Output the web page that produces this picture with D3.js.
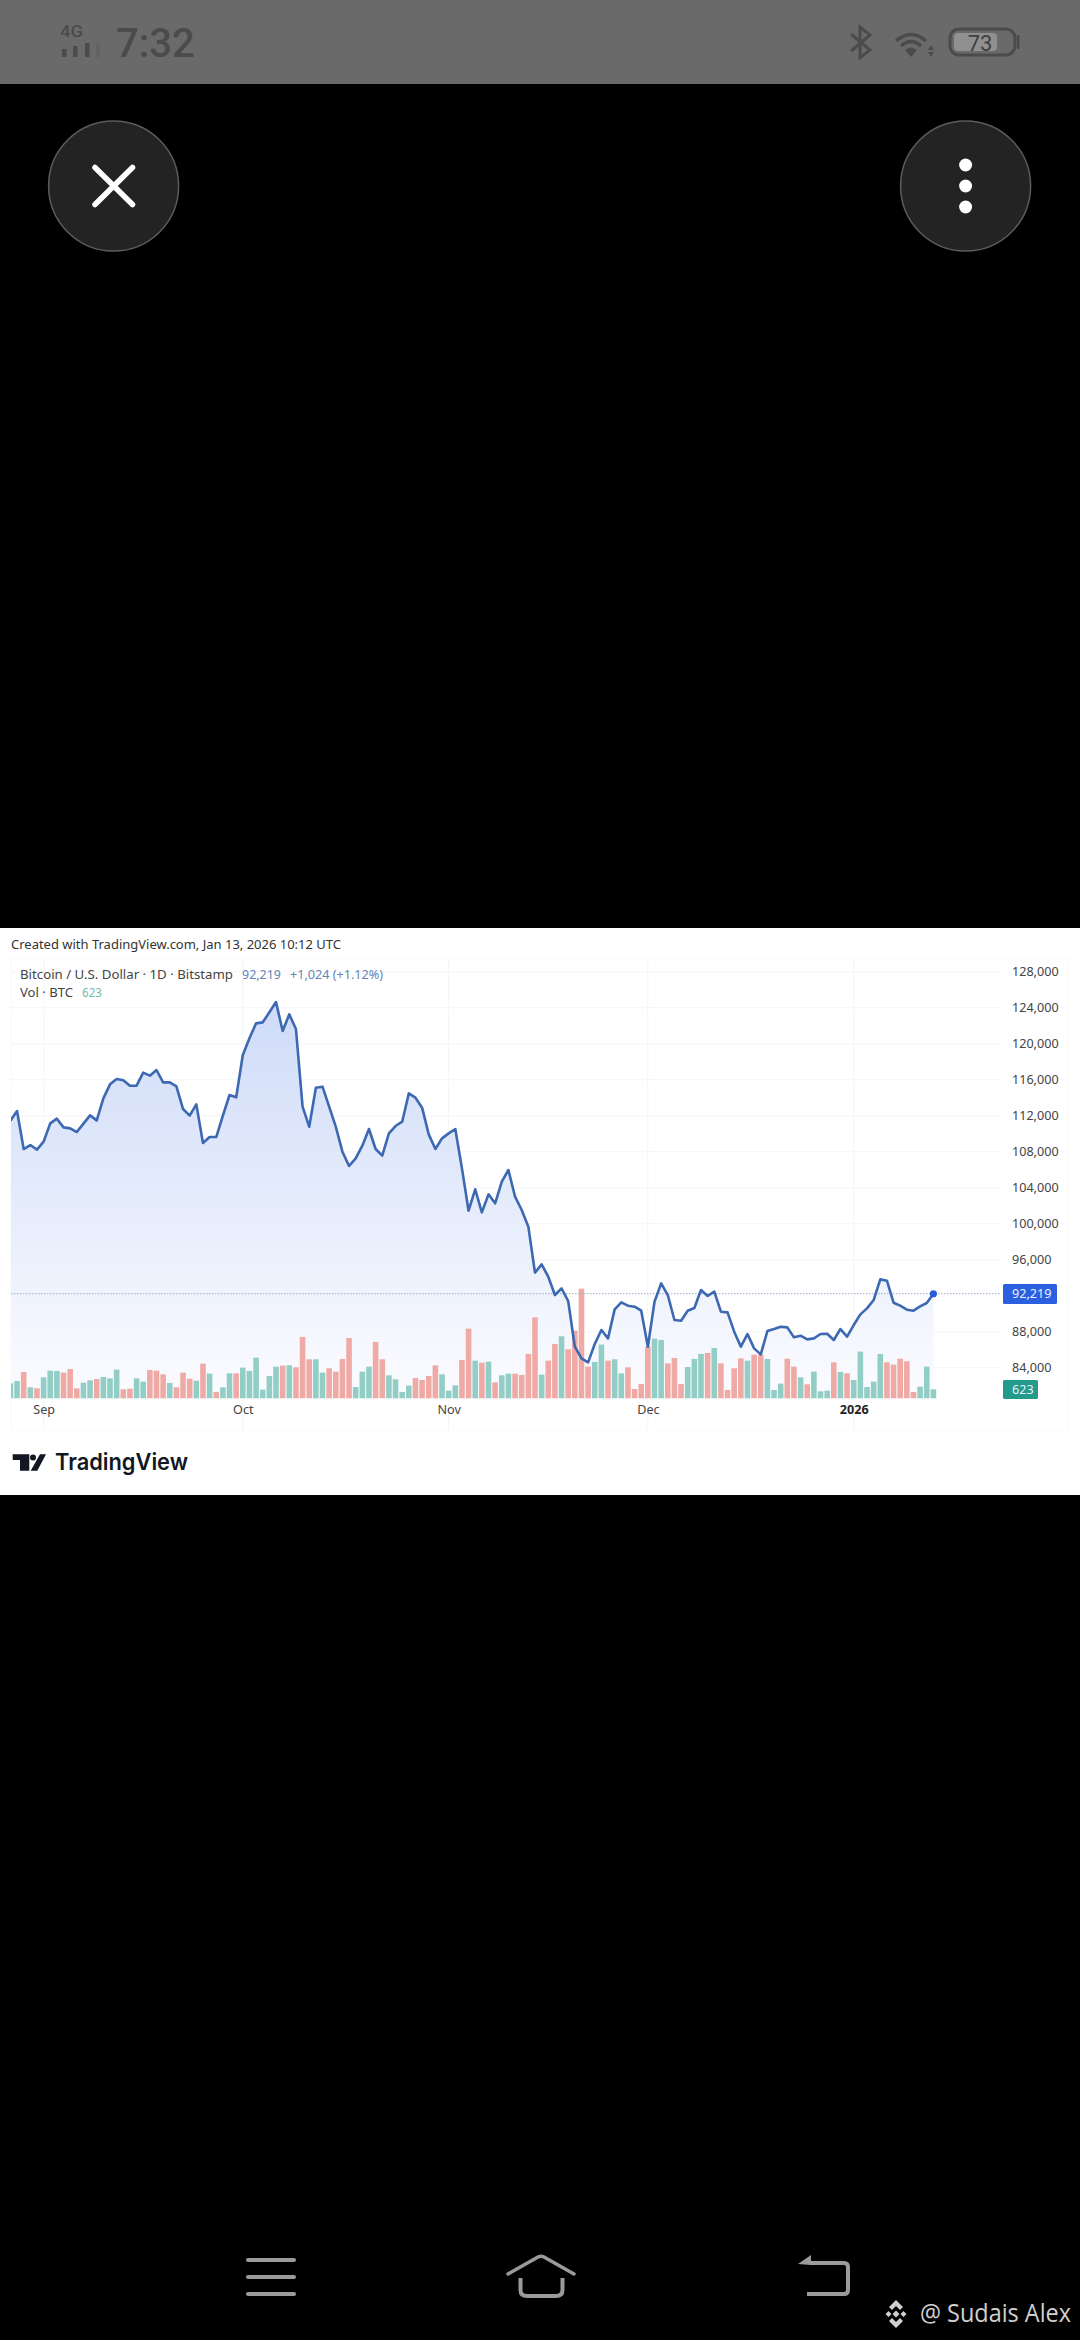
<!DOCTYPE html>
<html>
<head>
<meta charset="utf-8">
<script src="https://cdn.jsdelivr.net/npm/d3@7"></script>
<style>
  html, body { margin: 0; padding: 0; background: #000; }
  svg { display: block; }
</style>
</head>
<body>
<div id="chart"></div>
<script>
// daily closes, Aug 27 2025 to Jan 13 2026
const closes = [
  111447, 112521, 108298, 108743, 108224, 109113, 111150, 111669, 110706, 110595,
  110187, 111113, 112039, 111484, 113928, 115484, 116077, 115928, 115336, 115336,
  116780, 116447, 117077, 115706, 115706, 115262, 112743, 112002, 113261, 108965,
  109632, 109632, 112002, 114299, 114039, 118743, 120595, 122262, 122373, 123485,
  124633, 121410, 123262, 121633, 113002, 110780, 115113, 115225, 113002, 110780,
  108002, 106409, 107261, 108669, 110521, 108298, 107557, 110039, 110854, 111335,
  114484, 114002, 112891, 109928, 108298, 109483, 110039, 110521, 106150, 101446,
  103816, 101261, 103261, 102261, 104668, 105965, 103001, 101520, 99668, 94557,
  95483, 94112, 92075, 92816, 91408, 86334, 85037, 84593, 86630, 88186,
  87260, 90482, 91260, 90890, 90779, 90334, 86334, 91334, 93371, 92075,
  89297, 89223, 90334, 90630, 92631, 91964, 92445, 90223, 90149, 88001,
  86334, 87741, 86149, 85482, 88075, 88297, 88556, 88482, 87371, 87556,
  87149, 87260, 87741, 87778, 87075, 88297, 87445, 88741, 89927, 90593,
  91519, 93816, 93668, 91223, 90890, 90445, 90334, 90816, 91186, 92219
];

const volumes = [
  1035, 1196, 1817, 759, 690, 1449, 1909, 1886, 1771, 2024,
  690, 1081, 1242, 1334, 1472, 1380, 1978, 621, 667, 1380,
  1150, 1955, 1909, 1656, 1058, 759, 1771, 1357, 1219, 2392,
  1702, 437, 759, 1725, 1725, 2116, 1886, 2806, 598, 1541,
  2185, 2254, 2277, 2139, 4232, 2691, 2691, 1771, 2070, 1840,
  2714, 4163, 782, 1840, 2185, 3887, 2691, 1587, 1311, 437,
  874, 1403, 1265, 1541, 2277, 1656, 529, 897, 2645, 4807,
  2599, 2461, 2530, 1104, 1587, 1702, 1702, 1610, 3059, 5589,
  1633, 2599, 3749, 4278, 3381, 4669, 7567, 2185, 2507, 3703,
  2599, 2691, 1725, 2139, 644, 989, 3565, 4117, 4025, 2415,
  2783, 989, 2162, 2714, 3059, 3128, 3473, 2415, 575, 2070,
  2760, 2599, 3013, 3013, 2714, 575, 1012, 2737, 2185, 1449,
  966, 1840, 483, 529, 2484, 1817, 1725, 1265, 3220, 782,
  1150, 3059, 2484, 2323, 2737, 2553, 437, 805, 2185, 623
];

// 1 = green bar, 0 = red bar
const volumeUp = [
  1, 1, 0, 1, 0, 1, 1, 1, 0, 0,
  0, 1, 1, 0, 1, 1, 1, 0, 0, 1,
  1, 0, 0, 0, 1, 0, 0, 0, 1, 0,
  1, 0, 1, 1, 0, 1, 1, 1, 1, 1,
  1, 0, 1, 0, 0, 0, 1, 1, 0, 0,
  0, 0, 1, 1, 1, 0, 0, 1, 1, 1,
  1, 0, 0, 0, 0, 1, 1, 1, 0, 0,
  1, 0, 1, 0, 1, 1, 0, 0, 0, 0,
  1, 0, 0, 1, 0, 0, 0, 0, 1, 1,
  0, 1, 1, 0, 0, 0, 0, 1, 1, 0,
  0, 0, 1, 1, 1, 0, 1, 0, 0, 0,
  0, 1, 0, 0, 1, 1, 1, 0, 0, 1,
  0, 1, 1, 1, 0, 1, 0, 1, 1, 1,
  1, 1, 0, 0, 0, 0, 0, 1, 1, 1
];

const priceTicks = [128000, 124000, 120000, 116000, 112000, 108000, 104000, 100000, 96000, 88000, 84000];
const monthTicks = ["2025-09-01", "2025-10-01", "2025-11-01", "2025-12-01", "2026-01-01"];
const monthLabels = ["Sep", "Oct", "Nov", "Dec", "2026"];
const startDay = "2025-08-27";
const lastPrice = 92219;
const lastVolume = 623;

const width = 1080, height = 2340;
const uiFont = "'Noto Sans', sans-serif";

const days = closes.map((d, i) => d3.utcDay.offset(new Date(startDay), i));

const x = d3.scaleUtc().domain([days[0], days[days.length - 1]]).range([10.4, 933.4]);
const y = d3.scaleLinear().domain([84000, 128000]).range([1367.7, 971.7]);
const yVol = d3.scaleLinear().domain([0, 6900]).range([1398.3, 1298.3]);

const svg = d3.select("#chart").append("svg").attr("width", width).attr("height", height);

svg.append("rect").attr("width", width).attr("height", height).attr("fill", "#000");

// phone status bar
svg.append("rect").attr("width", width).attr("height", 84).attr("fill", "#6a6a6a");
const statusColor = "#4b4b4b";
svg.append("text").attr("x", 116).attr("y", 57).attr("font-family", "Roboto, sans-serif")
  .attr("font-weight", 500).attr("font-size", 40).attr("fill", statusColor).text("7:32");
svg.append("text").attr("x", 60).attr("y", 37).attr("font-family", "Roboto, sans-serif")
  .attr("font-weight", 500).attr("font-size", 17).attr("fill", statusColor)
  .attr("textLength", 23).attr("lengthAdjust", "spacingAndGlyphs").text("4G");
[[62, 49], [73, 46], [85, 43]].forEach(([bx, by]) => {
  svg.append("rect").attr("x", bx).attr("y", by).attr("width", 4.5).attr("height", 57 - by).attr("fill", statusColor);
});
svg.append("rect").attr("x", 96).attr("y", 43).attr("width", 4).attr("height", 14).attr("fill", "#626262");
svg.append("path").attr("d", "M851,34L870,50L860,58V27L870,35L851,51")
  .attr("fill", "none").attr("stroke", statusColor).attr("stroke-width", 3);
svg.append("path").attr("d", "M896,41Q911,28 926,41M901,46Q911,37 921,46")
  .attr("fill", "none").attr("stroke", statusColor).attr("stroke-width", 3.5);
svg.append("path").attr("d", "M905,50Q911,45 917,50L911,57Z").attr("fill", statusColor);
svg.append("path").attr("d", "M931,45l3,5h-6zM931,57l3,-5h-6z").attr("fill", statusColor);
svg.append("rect").attr("x", 950).attr("y", 29).attr("width", 65).attr("height", 26).attr("rx", 9)
  .attr("fill", "none").attr("stroke", statusColor).attr("stroke-width", 3);
svg.append("rect").attr("x", 954).attr("y", 33).attr("width", 43).attr("height", 18).attr("rx", 4).attr("fill", "#909090");
svg.append("rect").attr("x", 1017).attr("y", 35).attr("width", 2.5).attr("height", 14).attr("fill", statusColor);
svg.append("text").attr("x", 980).attr("y", 51).attr("text-anchor", "middle").attr("font-family", "Roboto, sans-serif")
  .attr("font-size", 22).attr("fill", "#3f3f3f").text("73");

// round overlay buttons
[113.6, 965.6].forEach((cx) => {
  svg.append("circle").attr("cx", cx).attr("cy", 186).attr("r", 65)
    .attr("fill", "#232323").attr("stroke", "#5c5c5c").attr("stroke-width", 1.5);
});
svg.append("path").attr("d", "M95,167.5L132.5,204.5M132.5,167.5L95,204.5")
  .attr("stroke", "#fff").attr("stroke-width", 5.5).attr("stroke-linecap", "round");
[165, 186, 207].forEach((cy) => {
  svg.append("circle").attr("cx", 965.6).attr("cy", cy).attr("r", 6.5).attr("fill", "#fff");
});

// white chart card
svg.append("rect").attr("x", 0).attr("y", 928).attr("width", width).attr("height", 567).attr("fill", "#fff");

const defs = svg.append("defs");
defs.append("clipPath").attr("id", "pane").append("rect")
  .attr("x", 11).attr("y", 958).attr("width", 989).attr("height", 472);
const grad = defs.append("linearGradient").attr("id", "areaFill")
  .attr("gradientUnits", "userSpaceOnUse")
  .attr("x1", 0).attr("x2", 0).attr("y1", y(124633)).attr("y2", yVol(0));
grad.append("stop").attr("offset", 0).attr("stop-color", "#cfdbf8");
grad.append("stop").attr("offset", 1).attr("stop-color", "#fbfcff");

// grid
svg.append("rect").attr("x", 11).attr("y", 958).attr("width", 1058).attr("height", 472)
  .attr("fill", "none").attr("stroke", "#fafafa");
svg.append("g").selectAll("line").data(priceTicks).join("line")
  .attr("x1", 11).attr("x2", 1000)
  .attr("y1", d => y(d)).attr("y2", d => y(d))
  .attr("stroke", "#f4f5f6");
svg.append("g").selectAll("line").data(monthTicks).join("line")
  .attr("x1", d => x(new Date(d))).attr("x2", d => x(new Date(d)))
  .attr("y1", 958).attr("y2", 1430)
  .attr("stroke", "#f5f5f6");

const pane = svg.append("g").attr("clip-path", "url(#pane)");

const area = d3.area().x((d, i) => x(days[i])).y0(yVol(0)).y1(d => y(d));
pane.append("path").datum(closes).attr("d", area).attr("fill", "url(#areaFill)");

// volume
const barWidth = 5.6;
pane.append("g").selectAll("rect").data(volumes).join("rect")
  .attr("x", (d, i) => x(days[i]) - barWidth / 2)
  .attr("y", d => yVol(d))
  .attr("width", barWidth)
  .attr("height", d => yVol(0) - yVol(d))
  .attr("fill", (d, i) => volumeUp[i] ? "#93cec6" : "#f0aaa6");

// last price line
pane.append("line").attr("x1", 11).attr("x2", 1000).attr("y1", y(lastPrice)).attr("y2", y(lastPrice))
  .attr("stroke", "#9aaac4").attr("stroke-width", 1.2).attr("stroke-dasharray", "1.5,1.5");

const line = d3.line().x((d, i) => x(days[i])).y(d => y(d));
pane.append("path").datum(closes).attr("d", line)
  .attr("fill", "none").attr("stroke", "#3d68b2").attr("stroke-width", 2.6).attr("stroke-linejoin", "round");
svg.append("circle").attr("cx", x(days[days.length - 1])).attr("cy", y(lastPrice)).attr("r", 3.6).attr("fill", "#2a5cd8");

// axes
const yAxis = svg.append("g").attr("transform", "translate(1012,0)")
  .call(d3.axisRight(y).tickValues(priceTicks).tickSize(0).tickPadding(0).tickFormat(d3.format(",")));
yAxis.select(".domain").remove();
yAxis.selectAll("text").attr("font-family", uiFont).attr("font-size", 12.6).attr("fill", "#444");

const xAxis = svg.append("g").attr("transform", "translate(0,1405)")
  .call(d3.axisBottom(x).tickValues(monthTicks.map(d => new Date(d))).tickSize(0).tickPadding(0)
    .tickFormat((d, i) => monthLabels[i]));
xAxis.select(".domain").remove();
xAxis.selectAll("text").attr("font-family", uiFont).attr("font-size", 12.6).attr("fill", "#444");
xAxis.selectAll("text").filter((d, i) => i === 4).attr("font-weight", 700).attr("fill", "#222");

// price and volume tags
const tags = [
  { top: 1284, w: 54, h: 20, fill: "#2a5fe0", label: d3.format(",")(lastPrice) },
  { top: 1380, w: 35, h: 19, fill: "#229a8c", label: String(lastVolume) }
];
tags.forEach((t) => {
  svg.append("rect").attr("x", 1003).attr("y", t.top).attr("width", t.w).attr("height", t.h).attr("rx", 1.5).attr("fill", t.fill);
  svg.append("text").attr("x", 1012).attr("y", t.top + t.h / 2).attr("dy", "0.35em")
    .attr("font-family", uiFont).attr("font-size", 12.6).attr("fill", "#e8f0ff").text(t.label);
});

// header texts
const label = (tx, ty, str, color, len) => svg.append("text").attr("x", tx).attr("y", ty)
  .attr("font-family", uiFont).attr("font-size", 12.6).attr("fill", color)
  .attr("textLength", len).attr("lengthAdjust", "spacingAndGlyphs").text(str);
label(11, 949, "Created with TradingView.com, Jan 13, 2026 10:12 UTC", "#333", 330);
label(20, 979, "Bitcoin / U.S. Dollar · 1D · Bitstamp", "#444", 213);
label(242, 979, "92,219", "#6485b8", 39);
label(290, 979, "+1,024 (+1.12%)", "#6485b8", 93);
label(20, 997, "Vol · BTC", "#444", 53);
label(82, 997, "623", "#74bcb1", 20);

// TradingView logo
svg.append("path").attr("d", "M12.7,1454.3H29.3V1470.7H20V1460H12.7ZM40,1454.3H46L37.3,1470.7H30.7Z").attr("fill", "#131722");
svg.append("circle").attr("cx", 33).attr("cy", 1457.5).attr("r", 3).attr("fill", "#131722");
svg.append("text").attr("x", 55).attr("y", 1470).attr("font-family", "Inter, sans-serif").attr("font-weight", 600)
  .attr("font-size", 23).attr("fill", "#131722").attr("textLength", 133).attr("lengthAdjust", "spacingAndGlyphs").text("TradingView");

// navigation bar
const navColor = "#9a9a9a";
[2260, 2277, 2294].forEach((ny) => {
  svg.append("line").attr("x1", 248).attr("x2", 294).attr("y1", ny).attr("y2", ny)
    .attr("stroke", navColor).attr("stroke-width", 4).attr("stroke-linecap", "round");
});
svg.append("path").attr("d", "M508,2274L538,2257Q541,2255.5 544,2257L574,2274")
  .attr("fill", "none").attr("stroke", navColor).attr("stroke-width", 3.5).attr("stroke-linecap", "round");
svg.append("path").attr("d", "M520.5,2278V2290Q520.5,2296 527,2296H556Q562.5,2296 562.5,2290V2278")
  .attr("fill", "none").attr("stroke", navColor).attr("stroke-width", 4);
svg.append("path").attr("d", "M810,2263H844Q848,2263 848,2267V2290Q848,2294 844,2294H807")
  .attr("fill", "none").attr("stroke", navColor).attr("stroke-width", 4);
svg.append("path").attr("d", "M798,2264L811,2255V2265Z").attr("fill", navColor);

// watermark
const markColor = "#d0d0d0";
svg.append("path").attr("d", "M896,2300l7,7l-3,3l-4,-4l-4,4l-3,-3ZM896,2328l7,-7l-3,-3l-4,4l-4,-4l-3,3ZM896,2310.5l3.5,3.5l-3.5,3.5l-3.5,-3.5ZM888.5,2311l3,3l-3,3l-3,-3ZM903.5,2311l3,3l-3,3l-3,-3Z")
  .attr("fill", markColor);
svg.append("text").attr("x", 920).attr("y", 2322).attr("font-family", "'Open Sans', sans-serif")
  .attr("font-size", 25).attr("fill", markColor).attr("textLength", 151).attr("lengthAdjust", "spacingAndGlyphs").text("@ Sudais Alex");
</script>
</body>
</html>
